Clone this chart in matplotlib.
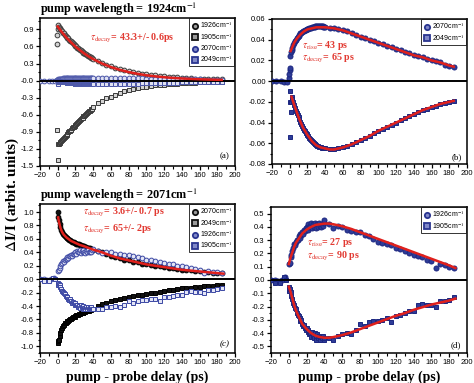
import matplotlib
matplotlib.use("Agg")
import matplotlib.pyplot as plt
from matplotlib.ticker import MultipleLocator
from matplotlib.lines import Line2D

plt.rcParams['mathtext.fontset'] = 'stix'

# ---------------- data ----------------
dense_t = list(range(1, 41))
tail_t = list(range(45, 190, 5))

# panel (a): pump 1924
a1926_t = [-1, -0.5, 0, 0.5] + dense_t + tail_t
a1926_v = [0.65, 0.81, 0.90, 0.97] + [
    0.95, 0.93, 0.90, 0.89, 0.87, 0.84, 0.83, 0.80, 0.79, 0.77,
    0.75, 0.74, 0.72, 0.70, 0.69, 0.67, 0.66, 0.64, 0.63, 0.61,
    0.60, 0.58, 0.57, 0.56, 0.54, 0.53, 0.52, 0.51, 0.49, 0.48,
    0.47, 0.46, 0.45, 0.44, 0.43, 0.42, 0.41, 0.40, 0.39, 0.38] + [
    0.34, 0.31, 0.28, 0.25, 0.23, 0.21, 0.19, 0.17, 0.155, 0.14,
    0.125, 0.115, 0.10, 0.09, 0.082, 0.075, 0.067, 0.06, 0.055, 0.05,
    0.045, 0.04, 0.036, 0.033, 0.03, 0.027, 0.024, 0.022, 0.02]

a1905_t = [-1, 0, 0.5] + dense_t + tail_t
a1905_v = [-0.87, -1.40, -1.12] + [
    -1.12, -1.10, -1.08, -1.06, -1.04, -1.02, -1.00, -0.99, -0.97, -0.95,
    -0.93, -0.91, -0.89, -0.88, -0.86, -0.84, -0.82, -0.81, -0.79, -0.78,
    -0.76, -0.74, -0.73, -0.71, -0.69, -0.68, -0.66, -0.65, -0.63, -0.62,
    -0.60, -0.59, -0.57, -0.56, -0.54, -0.53, -0.51, -0.50, -0.49, -0.47] + [
    -0.40, -0.35, -0.31, -0.28, -0.25, -0.22, -0.19, -0.17, -0.15, -0.13,
    -0.12, -0.105, -0.095, -0.085, -0.077, -0.07, -0.063, -0.057, -0.052, -0.047,
    -0.043, -0.039, -0.036, -0.033, -0.03, -0.028, -0.026, -0.024, -0.022]

fitA_t = [0, 5, 10, 15, 20, 25, 30, 35, 40, 50, 60, 70, 80, 90, 100, 110,
          120, 130, 140, 150, 160, 170, 180, 185]
fitA_v = [0.95, 0.846, 0.754, 0.672, 0.599, 0.534, 0.476, 0.424, 0.378, 0.300,
          0.238, 0.189, 0.150, 0.119, 0.094, 0.075, 0.0595, 0.047, 0.0375,
          0.0298, 0.0236, 0.0187, 0.0149, 0.0132]

# panel (b): 2070 / 2049 (also shown in (a))
b2070_t = [-20, -15, -10, -6, -3, -1, -0.5, 0, 0.3, 0.6] + dense_t + tail_t
b2070_v = [0.0, 0.0, 0.0005, -0.001, -0.0005, 0.0035, 0.007, 0.011, 0.013, 0.024] + [
    0.028, 0.030, 0.032, 0.035, 0.037, 0.039, 0.040, 0.042, 0.043, 0.044,
    0.045, 0.046, 0.046, 0.047, 0.048, 0.048, 0.049, 0.049, 0.050, 0.050,
    0.050, 0.051, 0.051, 0.051, 0.052, 0.052, 0.052, 0.052, 0.053, 0.053,
    0.053, 0.053, 0.053, 0.053, 0.053, 0.053, 0.053, 0.052, 0.052, 0.052][:40] + [
    0.051, 0.051, 0.050, 0.049, 0.048, 0.046, 0.045, 0.043, 0.042, 0.040,
    0.039, 0.037, 0.036, 0.034, 0.033, 0.031, 0.030, 0.028, 0.027, 0.025,
    0.024, 0.023, 0.021, 0.020, 0.019, 0.018, 0.016, 0.015, 0.014]

b2049_t = [0, 0.3, 0.6, 1, 1.5] + dense_t[1:] + tail_t
b2049_v = [-0.020, -0.054, -0.0095, -0.030, -0.020] + [
    -0.015, -0.017, -0.020, -0.023, -0.026, -0.029, -0.031, -0.033, -0.035,
    -0.037, -0.039, -0.041, -0.043, -0.045, -0.047, -0.048, -0.050, -0.051, -0.052,
    -0.053, -0.055, -0.056, -0.057, -0.058, -0.059, -0.060, -0.061, -0.061, -0.062,
    -0.063, -0.063, -0.064, -0.064, -0.064, -0.065, -0.065, -0.065, -0.065, -0.065] + [
    -0.066, -0.066, -0.065, -0.064, -0.063, -0.061, -0.059, -0.057, -0.055, -0.053,
    -0.050, -0.048, -0.046, -0.044, -0.042, -0.040, -0.038, -0.036, -0.034, -0.032,
    -0.030, -0.028, -0.027, -0.025, -0.024, -0.022, -0.021, -0.020, -0.019]

fitB1_t = [1, 3, 5, 8, 12, 16, 20, 25, 30, 35, 40, 50, 60, 70, 80, 90, 100,
           110, 120, 130, 140, 150, 160, 170, 180, 185]
fitB1_v = [0.029, 0.033, 0.037, 0.041, 0.045, 0.048, 0.050, 0.051, 0.052, 0.052,
           0.052, 0.051, 0.049, 0.046, 0.043, 0.040, 0.037, 0.034, 0.031, 0.028,
           0.025, 0.023, 0.020, 0.018, 0.015, 0.014]
fitB2_t = [2, 5, 10, 15, 20, 25, 30, 35, 40, 45, 50, 55, 60, 70, 80, 90, 100,
           110, 120, 130, 140, 150, 160, 170, 180, 185]
fitB2_v = [-0.015, -0.023, -0.035, -0.045, -0.052, -0.058, -0.062, -0.064, -0.065,
           -0.066, -0.066, -0.065, -0.064, -0.061, -0.057, -0.053, -0.048, -0.044,
           -0.040, -0.036, -0.032, -0.028, -0.025, -0.022, -0.020, -0.019]

# panel (c): pump 2071
c2070_t = [0, 0.5] + dense_t + tail_t
c2070_v = [1.0, 0.92] + [
    0.88, 0.82, 0.77, 0.73, 0.70, 0.68, 0.66, 0.64, 0.63, 0.62,
    0.61, 0.60, 0.59, 0.58, 0.57, 0.56, 0.56, 0.55, 0.54, 0.54,
    0.53, 0.53, 0.52, 0.52, 0.51, 0.51, 0.50, 0.50, 0.49, 0.49,
    0.48, 0.48, 0.47, 0.47, 0.46, 0.46, 0.45, 0.45, 0.44, 0.44] + [
    0.42, 0.40, 0.37, 0.35, 0.33, 0.31, 0.29, 0.28, 0.26, 0.25,
    0.23, 0.22, 0.21, 0.20, 0.19, 0.18, 0.17, 0.16, 0.15, 0.14,
    0.135, 0.13, 0.12, 0.115, 0.11, 0.10, 0.095, 0.09, 0.085]

c2049_t = [0, 0.5] + dense_t + tail_t
c2049_v = [-0.95, -0.92] + [
    -0.90, -0.85, -0.80, -0.76, -0.73, -0.70, -0.68, -0.66, -0.65, -0.64,
    -0.63, -0.62, -0.61, -0.60, -0.59, -0.58, -0.57, -0.56, -0.56, -0.55,
    -0.54, -0.54, -0.53, -0.52, -0.52, -0.51, -0.51, -0.50, -0.50, -0.49,
    -0.49, -0.48, -0.48, -0.47, -0.47, -0.46, -0.46, -0.45, -0.45, -0.44] + [
    -0.40, -0.37, -0.35, -0.33, -0.31, -0.29, -0.28, -0.27, -0.25, -0.24,
    -0.23, -0.22, -0.21, -0.20, -0.19, -0.175, -0.165, -0.155, -0.145, -0.135,
    -0.13, -0.125, -0.12, -0.11, -0.105, -0.10, -0.095, -0.09, -0.085]

fitC_t = [0.5, 1, 2, 3, 4, 5, 7, 10, 15, 20, 25, 30, 40, 50, 60, 70, 80, 90,
          100, 120, 140, 160, 180, 187]
fitC_v = [0.92, 0.88, 0.82, 0.77, 0.73, 0.70, 0.66, 0.62, 0.57, 0.54, 0.51, 0.49,
          0.44, 0.40, 0.35, 0.31, 0.28, 0.25, 0.22, 0.18, 0.14, 0.115, 0.09, 0.082]

# panel (d): 1926 / 1905 (also shown in (c))
dense0_t = list(range(0, 41))
d1926_t = [-20, -16, -12, -8, -4] + dense0_t + tail_t
d1926_v = [0.0, 0.0, -0.01, 0.0, 0.02] + [
    0.12, 0.13, 0.17, 0.19, 0.22, 0.24, 0.27, 0.26, 0.29, 0.30,
    0.30, 0.33, 0.32, 0.35, 0.34, 0.36, 0.35, 0.38, 0.37, 0.39,
    0.40, 0.38, 0.42, 0.40, 0.41, 0.43, 0.39, 0.42, 0.40, 0.43,
    0.41, 0.39, 0.42, 0.40, 0.43, 0.41, 0.40, 0.42, 0.41, 0.43, 0.45] + [
    0.42, 0.39, 0.41, 0.40, 0.38, 0.37, 0.36, 0.36, 0.34, 0.33,
    0.31, 0.29, 0.28, 0.27, 0.26, 0.24, 0.23, 0.22, 0.20, 0.19,
    0.18, 0.17, 0.15, 0.14, 0.09, 0.12, 0.11, 0.10, 0.09]

d1905_t = [-20, -15, -10, -5, -3, 0.5] + dense0_t + tail_t
d1905_v = [0.0, -0.02, -0.02, 0.02, 0.0, -0.08] + [
    -0.05, -0.07, -0.09, -0.12, -0.14, -0.17, -0.19, -0.21, -0.22, -0.25,
    -0.26, -0.27, -0.29, -0.31, -0.30, -0.33, -0.35, -0.34, -0.36, -0.38,
    -0.36, -0.39, -0.38, -0.41, -0.40, -0.43, -0.39, -0.42, -0.44, -0.40,
    -0.43, -0.45, -0.41, -0.44, -0.42, -0.45, -0.43, -0.44, -0.42, -0.45, -0.44] + [
    -0.44, -0.45, -0.42, -0.41, -0.40, -0.41, -0.38, -0.33, -0.35, -0.32,
    -0.31, -0.31, -0.30, -0.29, -0.32, -0.27, -0.26, -0.25, -0.23, -0.23,
    -0.19, -0.18, -0.19, -0.19, -0.20, -0.16, -0.16, -0.15, -0.13]

fitD_t = [0, 2, 4, 6, 8, 10, 15, 20, 25, 30, 35, 40, 45, 50, 60, 70, 80, 90,
          100, 110, 120, 130, 140, 150, 160, 170, 180, 187]
fitD1_v = [0.12, 0.17, 0.21, 0.25, 0.28, 0.30, 0.35, 0.38, 0.40, 0.415, 0.42, 0.425,
           0.425, 0.42, 0.405, 0.385, 0.36, 0.335, 0.31, 0.285, 0.26, 0.235, 0.21,
           0.185, 0.16, 0.135, 0.11, 0.09]
fitD2_v = [-0.05, -0.09, -0.14, -0.19, -0.23, -0.26, -0.33, -0.37, -0.40, -0.42,
           -0.43, -0.435, -0.435, -0.43, -0.415, -0.395, -0.37, -0.345, -0.32,
           -0.295, -0.27, -0.25, -0.225, -0.205, -0.185, -0.17, -0.155, -0.14]

# ---------------- styling ----------------
W, H = 474, 383
fig = plt.figure(figsize=(W / 100, H / 100), dpi=100)
fig.patch.set_facecolor('white')

def rect(l, t, r, b):
    return [l / W, 1 - b / H, (r - l) / W, (b - t) / H]

axA = fig.add_axes(rect(40, 18, 235, 166))
axB = fig.add_axes(rect(272, 19, 467, 164))
axC = fig.add_axes(rect(40, 204, 235, 353))
axD = fig.add_axes(rect(271, 207, 467, 353))

RED = '#e0201c'
TXTRED = '#e23a32'
serif = 'Liberation Serif'
sans = 'Liberation Sans'

def style(ax, ylim, ymaj, ymin, fmt):
    ax.set_xlim(-20, 200)
    ax.set_ylim(*ylim)
    ax.xaxis.set_major_locator(MultipleLocator(20))
    ax.xaxis.set_minor_locator(MultipleLocator(10))
    ax.yaxis.set_major_locator(MultipleLocator(ymaj))
    ax.yaxis.set_minor_locator(MultipleLocator(ymin))
    ax.tick_params(which='major', direction='out', length=3, width=0.9,
                   labelsize=5.5, pad=1.5)
    ax.tick_params(which='minor', direction='out', length=1.8, width=0.8)
    for lab in ax.get_xticklabels() + ax.get_yticklabels():
        lab.set_fontfamily(sans)
    ax.yaxis.set_major_formatter(plt.FormatStrFormatter(fmt))
    for s in ax.spines.values():
        s.set_linewidth(1.1)
    ax.axhline(0, color='black', lw=1.4, zorder=5)

def pts(ax, t, v, marker, mfc, mec, ms=3.4, mew=0.7, z=3):
    ax.plot(t, v, linestyle='none', marker=marker, ms=ms, mfc=mfc, mec=mec,
            mew=mew, zorder=z)

def legend(ax, entries, fs=5.0):
    handles = [Line2D([], [], linestyle='none', marker=m, ms=3.8, mfc=fc, mec=ec,
                      mew=1.3) for (m, fc, ec, _) in entries]
    labels = [e[3] for e in entries]
    leg = ax.legend(handles, labels, loc='upper right', bbox_to_anchor=(0.997, 0.997),
                    frameon=True, fancybox=False, borderpad=0.3,
                    handletextpad=0.2, labelspacing=0.2, handlelength=1.1,
                    borderaxespad=0.0, prop={'family': sans, 'size': fs})
    leg.get_frame().set_edgecolor('black')
    leg.get_frame().set_linewidth(0.7)
    leg.set_zorder(10)

TFS = 7.2

# ---------- (a) ----------
style(axA, (-1.5, 1.1), 0.3, 0.15, '%.1f')
pts(axA, b2070_t, b2070_v, 'o', '#dfe1f3', '#4a55a8', z=4)
pts(axA, b2049_t, b2049_v, 's', '#dfe1f3', '#4a55a8', z=4)
pts(axA, a1926_t, a1926_v, 'o', '#d4d4d4', '#3a3a3a')
pts(axA, a1905_t, a1905_v, 's', '#d4d4d4', '#3a3a3a')
axA.plot(fitA_t, fitA_v, color=RED, lw=1.8, zorder=6)
legend(axA, [('o', '#9a9a9a', '#111111', '1926cm$^{-1}$'),
             ('s', '#9a9a9a', '#111111', '1905cm$^{-1}$'),
             ('o', '#8088c8', '#2a3590', '2070cm$^{-1}$'),
             ('s', '#8088c8', '#2a3590', '2049cm$^{-1}$')])
axA.text(36, 0.74, r'$\tau_{\rm decay}$= 43.3+/- 0.6ps', color=TXTRED,
         fontsize=TFS, fontfamily=serif, fontweight='bold', va='center')
axA.text(188, -1.32, '(a)', fontsize=6.5, fontfamily=serif, ha='center', va='center')
axA.set_title('pump wavelength = 1924cm$^{-1}$', fontsize=8.8, fontfamily=serif,
              fontweight='bold', loc='left', pad=2.5, x=0.0)

# ---------- (b) ----------
style(axB, (-0.08, 0.06), 0.02, 0.01, '%.2f')
pts(axB, b2070_t, b2070_v, 'o', '#2e3c98', '#1c2680', ms=3.6)
pts(axB, b2049_t, b2049_v, 's', '#2e3c98', '#1c2680', ms=3.4)
axB.plot(fitB1_t, fitB1_v, color=RED, lw=1.8, zorder=6)
axB.plot(fitB2_t, fitB2_v, color=RED, lw=1.8, zorder=6)
legend(axB, [('o', '#8088c8', '#2a3590', '2070cm$^{-1}$'),
             ('s', '#8088c8', '#2a3590', '2049cm$^{-1}$')])
axB.text(14, 0.034, r'$\tau_{\rm rise}$= 43 ps', color=TXTRED, fontsize=TFS,
         fontfamily=serif, fontweight='bold', va='center')
axB.text(14, 0.0215, r'$\tau_{\rm decay}$= 65 ps', color=TXTRED, fontsize=TFS,
         fontfamily=serif, fontweight='bold', va='center')
axB.text(188, -0.0735, '(b)', fontsize=6.5, fontfamily=serif, ha='center', va='center')

# ---------- (c) ----------
style(axC, (-1.1, 1.12), 0.2, 0.1, '%.1f')
pts(axC, c2070_t, c2070_v, 'o', '#111111', '#000000', z=3)
pts(axC, c2049_t, c2049_v, 's', '#111111', '#000000', z=3)
pts(axC, d1926_t, d1926_v, 'o', '#e4e6f6', '#3c48a4', z=4)
pts(axC, d1905_t, d1905_v, 's', '#e4e6f6', '#3c48a4', z=4)
axC.plot(fitC_t, fitC_v, color=RED, lw=1.8, zorder=6)
legend(axC, [('o', '#9a9a9a', '#111111', '2070cm$^{-1}$'),
             ('s', '#9a9a9a', '#111111', '2049cm$^{-1}$'),
             ('o', '#8088c8', '#2a3590', '1926cm$^{-1}$'),
             ('s', '#8088c8', '#2a3590', '1905cm$^{-1}$')])
axC.text(29, 0.99, r'$\tau_{\rm decay}$= 3.6+/- 0.7 ps', color=TXTRED, fontsize=TFS,
         fontfamily=serif, fontweight='bold', va='center')
axC.text(29, 0.74, r'$\tau_{\rm decay}$= 65+/- 2ps', color=TXTRED, fontsize=TFS,
         fontfamily=serif, fontweight='bold', va='center')
axC.text(188, -0.97, '(c)', fontsize=6.5, fontfamily=serif, fontstyle='italic',
         ha='center', va='center')
axC.set_title('pump wavelength = 2071cm$^{-1}$', fontsize=8.8, fontfamily=serif,
              fontweight='bold', loc='left', pad=3, x=0.0)
axC.set_xlabel('pump - probe delay (ps)', fontsize=10, fontfamily=serif,
               fontweight='bold', labelpad=3)

# ---------- (d) ----------
style(axD, (-0.55, 0.55), 0.1, 0.05, '%.1f')
pts(axD, d1926_t, d1926_v, 'o', '#2e3c98', '#1c2680', ms=3.6)
pts(axD, d1905_t, d1905_v, 's', '#2e3c98', '#1c2680', ms=3.4)
axD.plot(fitD_t, fitD1_v, color=RED, lw=1.8, zorder=6)
axD.plot(fitD_t, fitD2_v, color=RED, lw=1.8, zorder=6)
legend(axD, [('o', '#8088c8', '#2a3590', '1926cm$^{-1}$'),
             ('s', '#8088c8', '#2a3590', '1905cm$^{-1}$')])
axD.text(20, 0.28, r'$\tau_{\rm rise}$= 27 ps', color=TXTRED, fontsize=TFS,
         fontfamily=serif, fontweight='bold', va='center')
axD.text(20, 0.18, r'$\tau_{\rm decay}$= 90 ps', color=TXTRED, fontsize=TFS,
         fontfamily=serif, fontweight='bold', va='center')
axD.text(188, -0.49, '(d)', fontsize=6.5, fontfamily=serif, ha='center', va='center')
axD.set_xlabel('pump - probe delay (ps)', fontsize=10, fontfamily=serif,
               fontweight='bold', labelpad=3)

fig.text(12 / W, 1 - 195 / H, r'$\Delta$I/I (arbit. units)', rotation=90,
         fontsize=11, fontfamily=serif, fontweight='bold', ha='center', va='center')

fig.savefig('out.png', dpi=100, facecolor='white')
